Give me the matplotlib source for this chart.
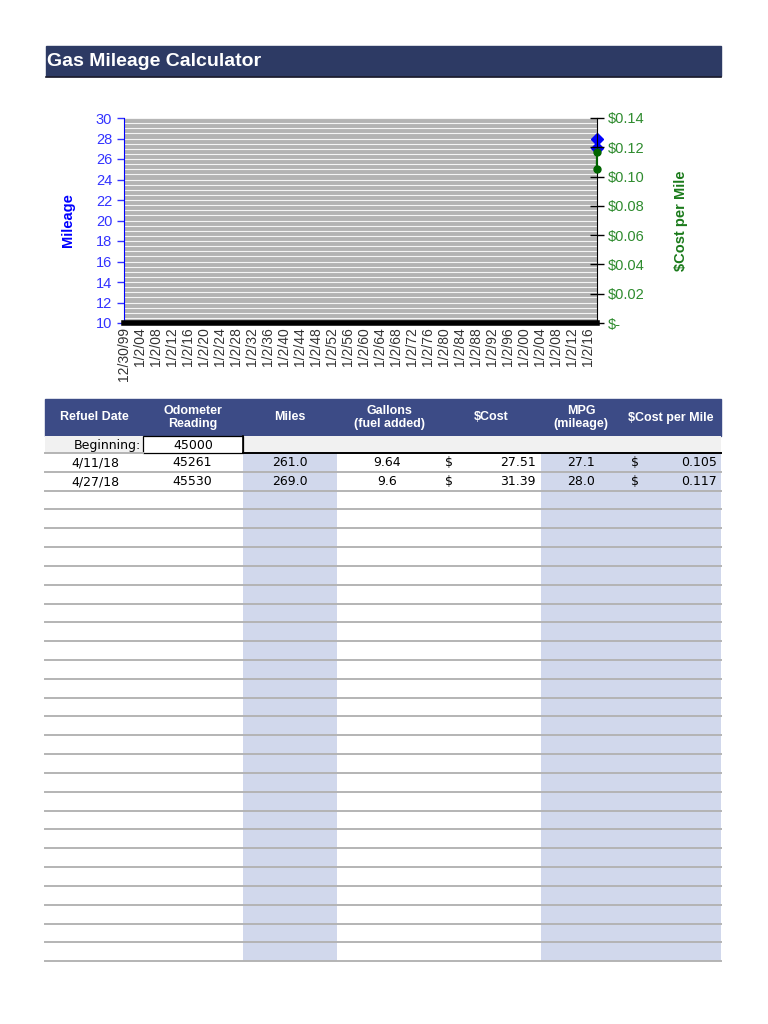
import datetime as dt
import matplotlib
matplotlib.use("Agg")
import matplotlib.pyplot as plt
from matplotlib.patches import Rectangle

# data
refuel_dates = ["4/11/18", "4/27/18"]
refuel_iso = ["2018-04-11", "2018-04-27"]
start_odometer = 45000
odometer = [45261, 45530]
miles = [261.0, 269.0]
gallons = ["9.64", "9.6"]
cost = [27.51, 31.39]
mpg = [27.1, 28.0]
cost_per_mile = [0.105, 0.117]

header_labels = ["Refuel Date", "Odometer\nReading", "Miles", "Gallons\n(fuel added)",
                 "$Cost", "MPG\n(mileage)", "$Cost per Mile"]
tick_years = list(range(1904, 2017, 4))
mileage_ticks = [10, 12, 14, 16, 18, 20, 22, 24, 26, 28, 30]
cost_ticks = [0, 0.02, 0.04, 0.06, 0.08, 0.10, 0.12, 0.14]

EPOCH = dt.date(1899, 12, 30)


def serial(d):
    return (d - EPOCH).days


x_pts = [serial(dt.date.fromisoformat(s)) for s in refuel_iso]
tick_pos = [0] + [serial(dt.date(y, 1, 2)) for y in tick_years]
tick_lab = ["12/30/99"] + ["1/2/%02d" % (y % 100) for y in tick_years]

W, H = 768, 1024
fig = plt.figure(figsize=(W / 100, H / 100), dpi=100)

BLUE = "#3333ff"
GREEN = "#2e8b2e"

# ---- chart ----
ax = fig.add_axes([124 / W, 1 - 323 / H, 473 / W, 205 / H])
ax.set_facecolor("#b3b3b3")
ax.plot(x_pts, mpg, color="blue", marker="D", markersize=6, lw=1.5, clip_on=False, zorder=5)
ax.set_xlim(0, x_pts[-1])
ax.set_ylim(10, 30)
ax.set_yticks(mileage_ticks)
ax.set_yticks([v / 2 for v in range(20, 61)], minor=True)
ax.grid(which="both", axis="y", color="#f4f4f4", lw=0.8)
ax.tick_params(axis="y", which="minor", length=0)
ax.tick_params(axis="y", colors=BLUE, labelsize=10.5, length=5, width=1)
ax.set_xticks(tick_pos)
ax.set_xticklabels(tick_lab, rotation=90, fontsize=10, color="#333333")
ax.tick_params(axis="x", length=0, pad=3)
for lab in ax.get_yticklabels() + ax.get_xticklabels():
    lab.set_family("Liberation Sans")
ax.spines["top"].set_visible(False)
ax.spines["right"].set_visible(False)
ax.spines["left"].set_color("blue")
ax.spines["bottom"].set_linewidth(4)
ax.spines["bottom"].set_color("black")
ax.set_ylabel("Mileage", color="blue", fontsize=10.5, fontweight="bold",
              family="Liberation Sans", labelpad=15)

ax2 = ax.twinx()
ax2.plot(x_pts, cost_per_mile, color="#006400", marker="o", markersize=5, lw=1.5,
         clip_on=False, zorder=5)
ax2.set_ylim(0, 0.14)
ax2.set_yticks(cost_ticks)
ax2.set_yticklabels(["$-"] + ["$%.2f" % v for v in cost_ticks[1:]])
ax2.tick_params(axis="y", color="black", labelcolor=GREEN, labelsize=10.5,
                direction="inout", length=10, width=1, pad=3)
for lab in ax2.get_yticklabels():
    lab.set_family("Liberation Sans")
for s in ["top", "left", "bottom"]:
    ax2.spines[s].set_visible(False)
ax2.spines["right"].set_color("black")
ax2.set_ylabel("$Cost per Mile", color="#1a7a1a", fontsize=10.5, fontweight="bold",
               family="Liberation Sans", labelpad=21)

# ---- title + table overlay in pixel coordinates ----
ov = fig.add_axes([0, 0, 1, 1], zorder=-1)
ov.set_xlim(0, W)
ov.set_ylim(H, 0)
ov.axis("off")

ov.add_patch(Rectangle((46, 46), 675, 30, color="#2d3a64"))
ov.plot([46, 721], [76.5, 76.5], color="#1a1a2a", lw=1.2)
ov.text(47, 62, "Gas Mileage Calculator", color="white", fontsize=14, fontweight="bold",
        family="Liberation Sans", va="center", ha="left")

cols = [45, 143, 243, 337, 441, 541, 621, 721]
hdr_top, hdr_bot = 399, 436
beg_bot = 453
row_h = 18.82
n_rows = 27

ov.add_patch(Rectangle((45, hdr_top), 676, hdr_bot - hdr_top, color="#3c4b86"))
for i, lab in enumerate(header_labels):
    cx = (cols[i] + cols[i + 1]) / 2
    ov.text(cx, (hdr_top + hdr_bot) / 2, lab, color="white", fontsize=9,
            fontweight="bold", family="Liberation Sans", ha="center", va="center",
            linespacing=1.05)

# shaded columns
body_bot = beg_bot + n_rows * row_h
ov.add_patch(Rectangle((cols[2], beg_bot), cols[3] - cols[2], body_bot - beg_bot,
                       color="#d1d8ec", lw=0))
ov.add_patch(Rectangle((cols[5], beg_bot), cols[7] - cols[5], body_bot - beg_bot,
                       color="#d1d8ec", lw=0))

# beginning row
ov.add_patch(Rectangle((45, hdr_bot), 676, beg_bot - hdr_bot, color="#f1f1f1", lw=0))
ov.add_patch(Rectangle((cols[1], hdr_bot), cols[2] - cols[1], beg_bot - hdr_bot,
                       facecolor="white", edgecolor="black", lw=0.9))
ov.plot([cols[2], cols[2]], [hdr_bot, beg_bot], color="black", lw=1.2)
ov.plot([cols[2], 721], [beg_bot, beg_bot], color="black", lw=1.4)
ov.plot([45, cols[1]], [beg_bot, beg_bot], color="#b4b4b4", lw=1.4)
ov.text(cols[1] - 2, (hdr_bot + beg_bot) / 2 + 1, "Beginning:", fontsize=9,
        ha="right", va="center", family="DejaVu Sans")
ov.text((cols[1] + cols[2]) / 2, (hdr_bot + beg_bot) / 2 + 1, str(start_odometer),
        fontsize=9, ha="center", va="center", family="DejaVu Sans")

for r in range(n_rows):
    yb = beg_bot + (r + 1) * row_h
    ov.plot([45, 721], [yb, yb], color="#b4b4b4", lw=1.4)

for r in range(len(refuel_dates)):
    yc = beg_bot + (r + 0.5) * row_h + 0.5
    kw = dict(fontsize=9, va="center", family="DejaVu Sans")
    ov.text(95, yc, refuel_dates[r], ha="center", **kw)
    ov.text(192, yc, str(odometer[r]), ha="center", **kw)
    ov.text(290, yc, "%.1f" % miles[r], ha="center", **kw)
    ov.text(387, yc, gallons[r], ha="center", **kw)
    ov.text(445, yc, "$", ha="left", **kw)
    ov.text(536, yc, "%.2f" % cost[r], ha="right", **kw)
    ov.text(581, yc, "%.1f" % mpg[r], ha="center", **kw)
    ov.text(631, yc, "$", ha="left", **kw)
    ov.text(717, yc, "%.3f" % cost_per_mile[r], ha="right", **kw)

fig.savefig("out.png", dpi=100)
